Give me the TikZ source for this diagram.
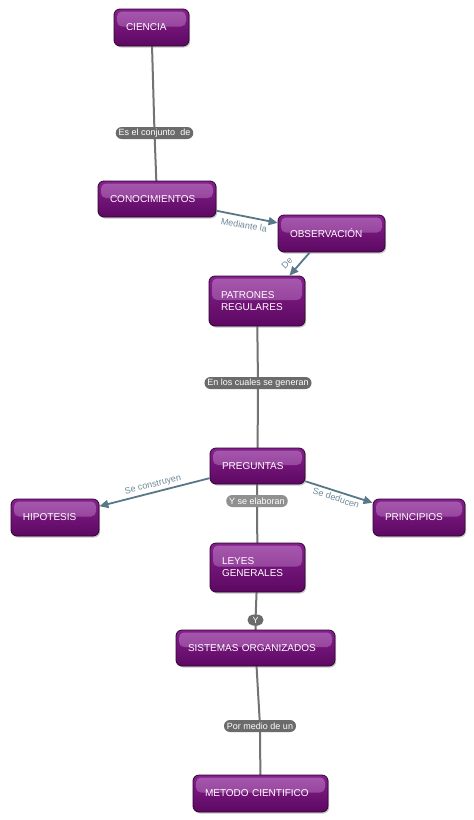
\documentclass[tikz,border=0pt]{standalone}
\usepackage{fontspec}
\setmainfont{Liberation Sans}
\usetikzlibrary{shadows,backgrounds,arrows.meta,calc}
\definecolor{cpurpletop}{HTML}{86208C}
\definecolor{cpurplebot}{HTML}{5C0862}
\definecolor{cborder}{HTML}{2E0532}
\definecolor{chigh}{HTML}{B068B8}
\definecolor{chighb}{HTML}{8E3A96}
\definecolor{cpill}{HTML}{6B6B6B}
\definecolor{carrow}{HTML}{587887}
\definecolor{clabel}{HTML}{6F8A98}
\definecolor{cline}{HTML}{737373}
\tikzset{
 concept/.style={draw=cborder, line width=0.8pt, rounded corners=6pt,
   top color=cpurpletop, bottom color=cpurplebot, text=white,
   font=\fontsize{10}{12}\selectfont, align=left, inner xsep=12pt, inner ysep=0pt,
   drop shadow={opacity=0.45, shadow xshift=1.2pt, shadow yshift=-1.5pt},
   path picture={\shade[top color=chigh, bottom color=chighb, opacity=0.8, rounded corners=5pt]
     ($(path picture bounding box.north west)+(3pt,-2.5pt)$) rectangle
     ($(path picture bounding box.east)+(-3pt,1pt)$);}},
 pill/.style={fill=cpill, rounded corners=6pt, text=white,
   font=\fontsize{9}{10}\selectfont, inner xsep=3pt, inner ysep=1pt, minimum height=12pt},
 conn/.style={draw=cline, line width=2pt},
 arr/.style={draw=carrow, line width=1.8pt, -{Triangle[length=9pt,width=8pt]}},
 alabel/.style={text=clabel, font=\fontsize{9}{10}\selectfont, inner sep=0pt},
}
\begin{document}
\begin{tikzpicture}[x=1pt,y=-1pt]
\useasboundingbox (0,0) rectangle (474,820);
% concepts
\node[concept, text width=51pt, minimum height=37pt] (ciencia) at (151.5,27.5) {CIENCIA};
\node[concept, text width=94pt, minimum height=36pt] (conoc) at (157,199) {CONOCIMIENTOS};
\node[concept, text width=83pt, minimum height=37pt] (obs) at (331.5,233.5) {OBSERVACIÓN};
\node[concept, text width=72pt, minimum height=50pt] (patron) at (257,301) {PATRONES\\REGULARES};
\node[concept, text width=71pt, minimum height=36pt] (preg) at (257.5,466) {PREGUNTAS};
\node[concept, text width=64pt, minimum height=37pt] (hipo) at (55,517.5) {HIPOTESIS};
\node[concept, text width=68pt, minimum height=37pt] (princ) at (419,517.5) {PRINCIPIOS};
\node[concept, text width=71pt, minimum height=49pt] (leyes) at (257.5,567.5) {LEYES\\GENERALES};
\node[concept, text width=135pt, minimum height=36pt] (sist) at (255.5,648) {SISTEMAS ORGANIZADOS};
\node[concept, text width=111pt, minimum height=37pt] (metodo) at (260.5,793.5) {METODO CIENTIFICO};
% link labels
\node[pill] (l1) at (154.5,133) {Es el conjunto\ \ de};
\node[pill] (l2) at (258,383) {En los cuales se generan};
\node[pill, fill=cpill!75] (l3) at (257,501) {Y se elaboran};
\node[pill, minimum width=16pt, minimum height=11pt, inner xsep=1pt, inner ysep=0pt, rounded corners=5.5pt] (l4) at (255.5,620) {Y};
\node[pill] (l5) at (260,726) {Por medio de un};
% arrow labels
\node[alabel, rotate=-10] (m1) at (244,225) {Mediante la};
\node[alabel, rotate=45] (m2) at (287,263) {De};
\node[alabel, rotate=14] (m3) at (153,485) {Se construyen};
\node[alabel, rotate=-18] (m4) at (336,498) {Se deducen};
% connectors
\begin{pgfonlayer}{background}
\fill[white] (0,0) rectangle (474,820);
\draw[conn] (ciencia.center) -- (l1.center) -- (conoc.center);
\draw[conn] (patron.center) -- (l2.center) -- (preg.center);
\draw[conn] (preg.center) -- (l3.center) -- (leyes.center);
\draw[conn] (leyes.center) -- (l4.center) -- (sist.center);
\draw[conn] (sist.center) -- (l5.center) -- (metodo.center);
\end{pgfonlayer}
\draw[arr] (conoc) -- (obs);
\draw[arr] (obs.221) -- (patron.38);
\draw[arr] (preg) -- (hipo);
\draw[arr] (preg) -- (princ);
\end{tikzpicture}
\end{document}
